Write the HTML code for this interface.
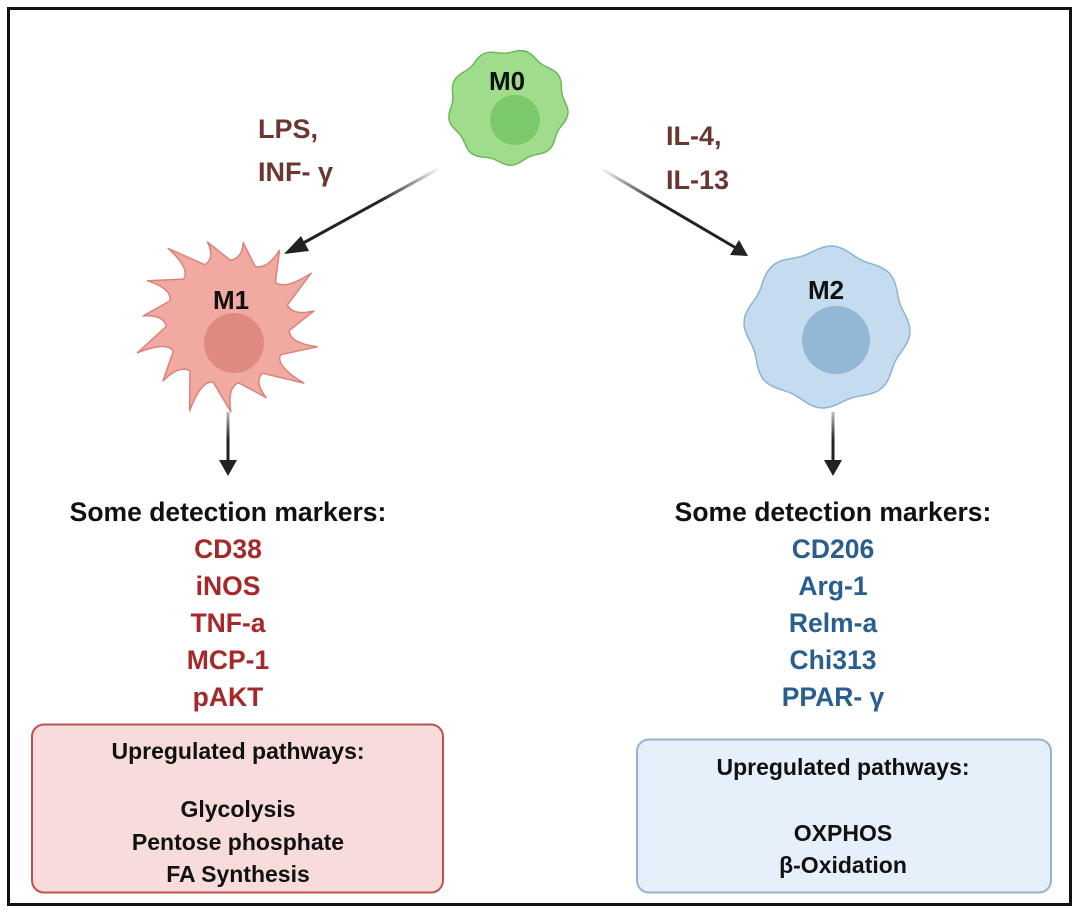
<!DOCTYPE html>
<html><head><meta charset="utf-8"><style>
html,body{margin:0;padding:0;background:#fff}
svg{display:block}
text{font-family:"Liberation Sans",sans-serif;font-weight:bold}
</style></head><body>
<svg id="s" width="1080" height="915" viewBox="0 0 1080 915" xmlns="http://www.w3.org/2000/svg">
<defs>
<linearGradient id="gl" x1="440" y1="168" x2="290" y2="252" gradientUnits="userSpaceOnUse">
<stop offset="0" stop-color="#222" stop-opacity="0"/><stop offset="0.4" stop-color="#222"/><stop offset="1" stop-color="#222"/></linearGradient>
<linearGradient id="gr" x1="600" y1="168" x2="745" y2="252" gradientUnits="userSpaceOnUse">
<stop offset="0" stop-color="#222" stop-opacity="0"/><stop offset="0.4" stop-color="#222"/><stop offset="1" stop-color="#222"/></linearGradient>
<linearGradient id="gd" x1="0" y1="412" x2="0" y2="440" gradientUnits="userSpaceOnUse">
<stop offset="0" stop-color="#222" stop-opacity="0.3"/><stop offset="1" stop-color="#222"/></linearGradient>
</defs>
<rect x="8.5" y="8.5" width="1062" height="896" fill="#fff" stroke="#111" stroke-width="3"/>

<path id="m0" fill="#9fdc8c" stroke="#6cb85a" stroke-width="1.5"/>
<circle cx="515" cy="120" r="25" fill="#7bc96a"/>
<text x="507" y="90" font-size="26" text-anchor="middle" fill="#111">M0</text>

<path id="m1" fill="#f1aaa2" stroke="#d98379" stroke-width="1.5" stroke-linejoin="round"/>
<circle cx="234" cy="343" r="30" fill="#df8a80"/>
<text x="231" y="309" font-size="26" text-anchor="middle" fill="#111">M1</text>

<path id="m2" fill="#c4dcee" stroke="#8db3d2" stroke-width="1.5"/>
<circle cx="836" cy="340" r="34" fill="#93b8d6"/>
<text x="826" y="299" font-size="26" text-anchor="middle" fill="#111">M2</text>

<line x1="440" y1="168" x2="296" y2="247" stroke="url(#gl)" stroke-width="3"/>
<polygon points="284,254 301,236 309,251" fill="#222"/>
<line x1="600" y1="168" x2="736" y2="248" stroke="url(#gr)" stroke-width="3"/>
<polygon points="748,256 730,255 739,240" fill="#222"/>
<line x1="228" y1="412" x2="228" y2="462" stroke="url(#gd)" stroke-width="3"/>
<polygon points="219,460 237,460 228,476" fill="#222"/>
<line x1="833" y1="412" x2="833" y2="462" stroke="url(#gd)" stroke-width="3"/>
<polygon points="824,460 842,460 833,476" fill="#222"/>

<g fill="#6b3630" font-size="27">
<text x="258" y="138">LPS,</text>
<text x="258" y="181">INF- γ</text>
<text x="666" y="145">IL-4,</text>
<text x="666" y="189">IL-13</text>
</g>

<g font-size="26.5" text-anchor="middle">
<text x="228" y="521" fill="#111">Some detection markers:</text>
<g fill="#a5282a">
<text x="228" y="558">CD38</text><text x="228" y="595">iNOS</text><text x="228" y="632">TNF-a</text><text x="228" y="669">MCP-1</text><text x="228" y="706">pAKT</text>
</g>
<text x="833" y="521" fill="#111">Some detection markers:</text>
<g fill="#2a5e8f">
<text x="833" y="558">CD206</text><text x="833" y="595">Arg-1</text><text x="833" y="632">Relm-a</text><text x="833" y="669">Chi313</text><text x="833" y="706">PPAR- γ</text>
</g>
</g>

<rect x="32" y="724.5" width="411" height="168" rx="12" fill="#f8dcdc" stroke="#c0504d" stroke-width="2"/>
<rect x="637" y="739.5" width="414" height="153" rx="12" fill="#e6f0fa" stroke="#9ab0cf" stroke-width="2"/>
<g font-size="23" text-anchor="middle" fill="#111">
<text x="238" y="759">Upregulated pathways:</text>
<text x="238" y="817">Glycolysis</text>
<text x="238" y="850">Pentose phosphate</text>
<text x="238" y="882">FA Synthesis</text>
<text x="843" y="775">Upregulated pathways:</text>
<text x="843" y="841">OXPHOS</text>
<text x="843" y="873">β-Oxidation</text>
</g>
</svg>
<script>
function wavy(cx,cy,rx,ry,n,amp,ph){var d="";for(var i=0;i<=120;i++){var a=i/120*2*Math.PI;var r=1+amp*Math.sin(n*a+ph);var x=cx+rx*r*Math.cos(a),y=cy+ry*r*Math.sin(a);d+=(i?"L":"M")+x.toFixed(1)+","+y.toFixed(1);}return d+"Z";}
document.getElementById("m0").setAttribute("d",wavy(508,107,58,56,9,0.04,0.5));
document.getElementById("m2").setAttribute("d",wavy(827,327,80,78,8,0.04,1));
var d="",n=15;for(var i=0;i<n;i++){var a0=i/n*2*Math.PI-1.4,a1=(i+0.5)/n*2*Math.PI-1.4;var rr=85+((i*37)%11)*1.6;
var ax=228+62*Math.cos(a0-0.12),ay=322+62*Math.sin(a0-0.12),tx=228+rr*Math.cos(a1-0.2),ty=322+rr*Math.sin(a1-0.2)*0.95,bx=228+62*Math.cos(a0+0.28),by=322+62*Math.sin(a0+0.28);
d+=(i?"L":"M")+ax.toFixed(1)+","+ay.toFixed(1)+"Q"+(228+66*Math.cos(a0+0.05)).toFixed(1)+","+(322+66*Math.sin(a0+0.05)).toFixed(1)+" "+tx.toFixed(1)+","+ty.toFixed(1)+"L"+bx.toFixed(1)+","+by.toFixed(1);}
document.getElementById("m1").setAttribute("d",d+"Z");
</script>
</body></html>
